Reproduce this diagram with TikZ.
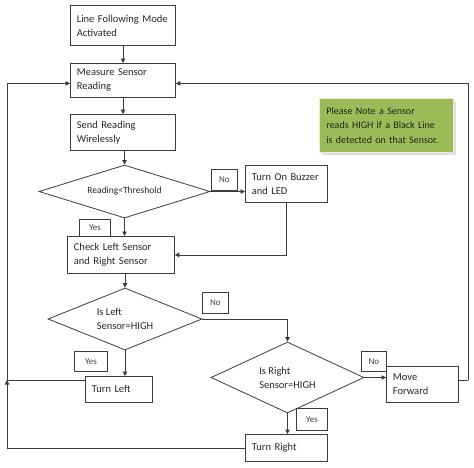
\documentclass[tikz,border=0pt]{standalone}
\usepackage{fontspec}
\setmainfont{Carlito}
\usetikzlibrary{calc}
\usetikzlibrary{arrows.meta}
\usetikzlibrary{shapes.geometric}
\usetikzlibrary{shadows}

\definecolor{notegreen}{RGB}{155,187,89}
\definecolor{linegray}{RGB}{60,60,60}

\hyphenpenalty=10000

\tikzset{
  proc/.style={draw=linegray, anchor=north west, align=left, inner xsep=6.5pt, inner ysep=2pt,
    font=\fontsize{10.5}{14}\selectfont, text=black!85},
  dec/.style={draw=linegray, diamond, aspect=2, inner sep=0pt, align=left,
    font=\fontsize{10.5}{14}\selectfont, text=black!85},
  tag/.style={draw=linegray, anchor=north west, inner sep=0pt, font=\fontsize{9}{10}\selectfont},
  arr/.style={-{Triangle[length=4.5pt,width=4.5pt]}},
}

\begin{document}
\begin{tikzpicture} [x=1pt, y=-1pt, line width=0.8pt, linegray]
\useasboundingbox (0,0) rectangle (474,467);

% main column
\node[proc, text width=92pt, minimum height=40pt] (start) at (70,5) {Line Following Mode\\Activated};
\node[proc, text width=92pt, minimum height=34pt] (measure) at (70,63) {Measure Sensor\\Reading};
\node[proc, text width=92pt, minimum height=36pt] (send) at (70,114) {Send Reading\\Wirelessly};
\node[dec, minimum width=171pt, minimum height=53pt, font=\fontsize{9.5}{12}\selectfont] (thresh) at (124.5,191.5) {Reading<Threshold};
\node[proc, text width=69pt, minimum height=37pt] (buzzer) at (245,165) {Turn On Buzzer\\and LED};
\node[proc, text width=94pt, minimum height=37pt] (check) at (67,236) {Check Left Sensor\\and Right Sensor};
\node[dec, minimum width=154pt, minimum height=62pt] (left) at (125,319) {Is Left\\Sensor=HIGH};
\node[proc, text width=54pt, minimum height=26pt] (tleft) at (85,376) {Turn Left};
\node[dec, minimum width=153pt, minimum height=71pt] (right) at (287.5,377.5) {Is Right\\Sensor=HIGH};
\node[proc, text width=69pt, minimum height=27pt] (tright) at (245,434) {Turn Right};
\node[proc, text width=59pt, minimum height=36pt] (fwd) at (386,366) {Move\\Forward};

% note
\node[proc, draw=white!75!notegreen, fill=notegreen, drop shadow={opacity=0.25}, text width=120pt,
  inner xsep=7pt, minimum height=54pt, font=\fontsize{10}{14.5}\selectfont, text=black!80!notegreen] (note) at (319,98)
  {Please Note a Sensor\\reads HIGH if a Black Line\\is detected on that Sensor.};

% yes / no tags
\node[tag, minimum width=26pt, minimum height=21pt] (no1) at (211,169) {No};
\node[tag, minimum width=31pt, minimum height=17pt] (yes1) at (79,219) {Yes};
\node[tag, minimum width=26pt, minimum height=21pt] (no2) at (202,292) {No};
\node[tag, minimum width=33pt, minimum height=20pt] (yes2) at (74,351) {Yes};
\node[tag, minimum width=25pt, minimum height=20pt] (no3) at (361,351) {No};
\node[tag, minimum width=31pt, minimum height=22pt] (yes3) at (296,408) {Yes};

% loop corners
\coordinate (lft) at (7,380);
\coordinate (rgt) at (468,380);

\draw[arr] (start.south -| 123,0) -- (measure.north -| 123,0);
\draw[arr] (measure.south -| 123,0) -- (send.north -| 123,0);
\draw[arr] (send.south -| 124.5,0) -- (thresh.north);
\draw[arr] (thresh.east) -- (thresh.east -| buzzer.west);
\draw[arr] (buzzer.south) |- (check.east);
\draw[arr] (thresh.south) -- (thresh.south |- check.north);
\draw[arr] (check.south -| left.north) -- (left.north);
\draw[arr] (left.east) -| (right.north);
\draw[arr] (left.south) -- (left.south |- tleft.north);
\draw[arr] (right.south) -- (right.south |- tright.north);
\draw[arr] (right.east) -- (right.east -| fwd.west);

% back to measuring
\draw (tleft.west |- lft) -- (lft);
\draw[arr] (tright.west) -| (lft);
\draw[arr] (lft) |- ($(measure.west)+(0,3)$);
\draw (fwd.east |- rgt) -- (rgt);
\draw[arr] (rgt) |- ($(measure.east)+(0,3)$);

\end{tikzpicture}
\end{document}
